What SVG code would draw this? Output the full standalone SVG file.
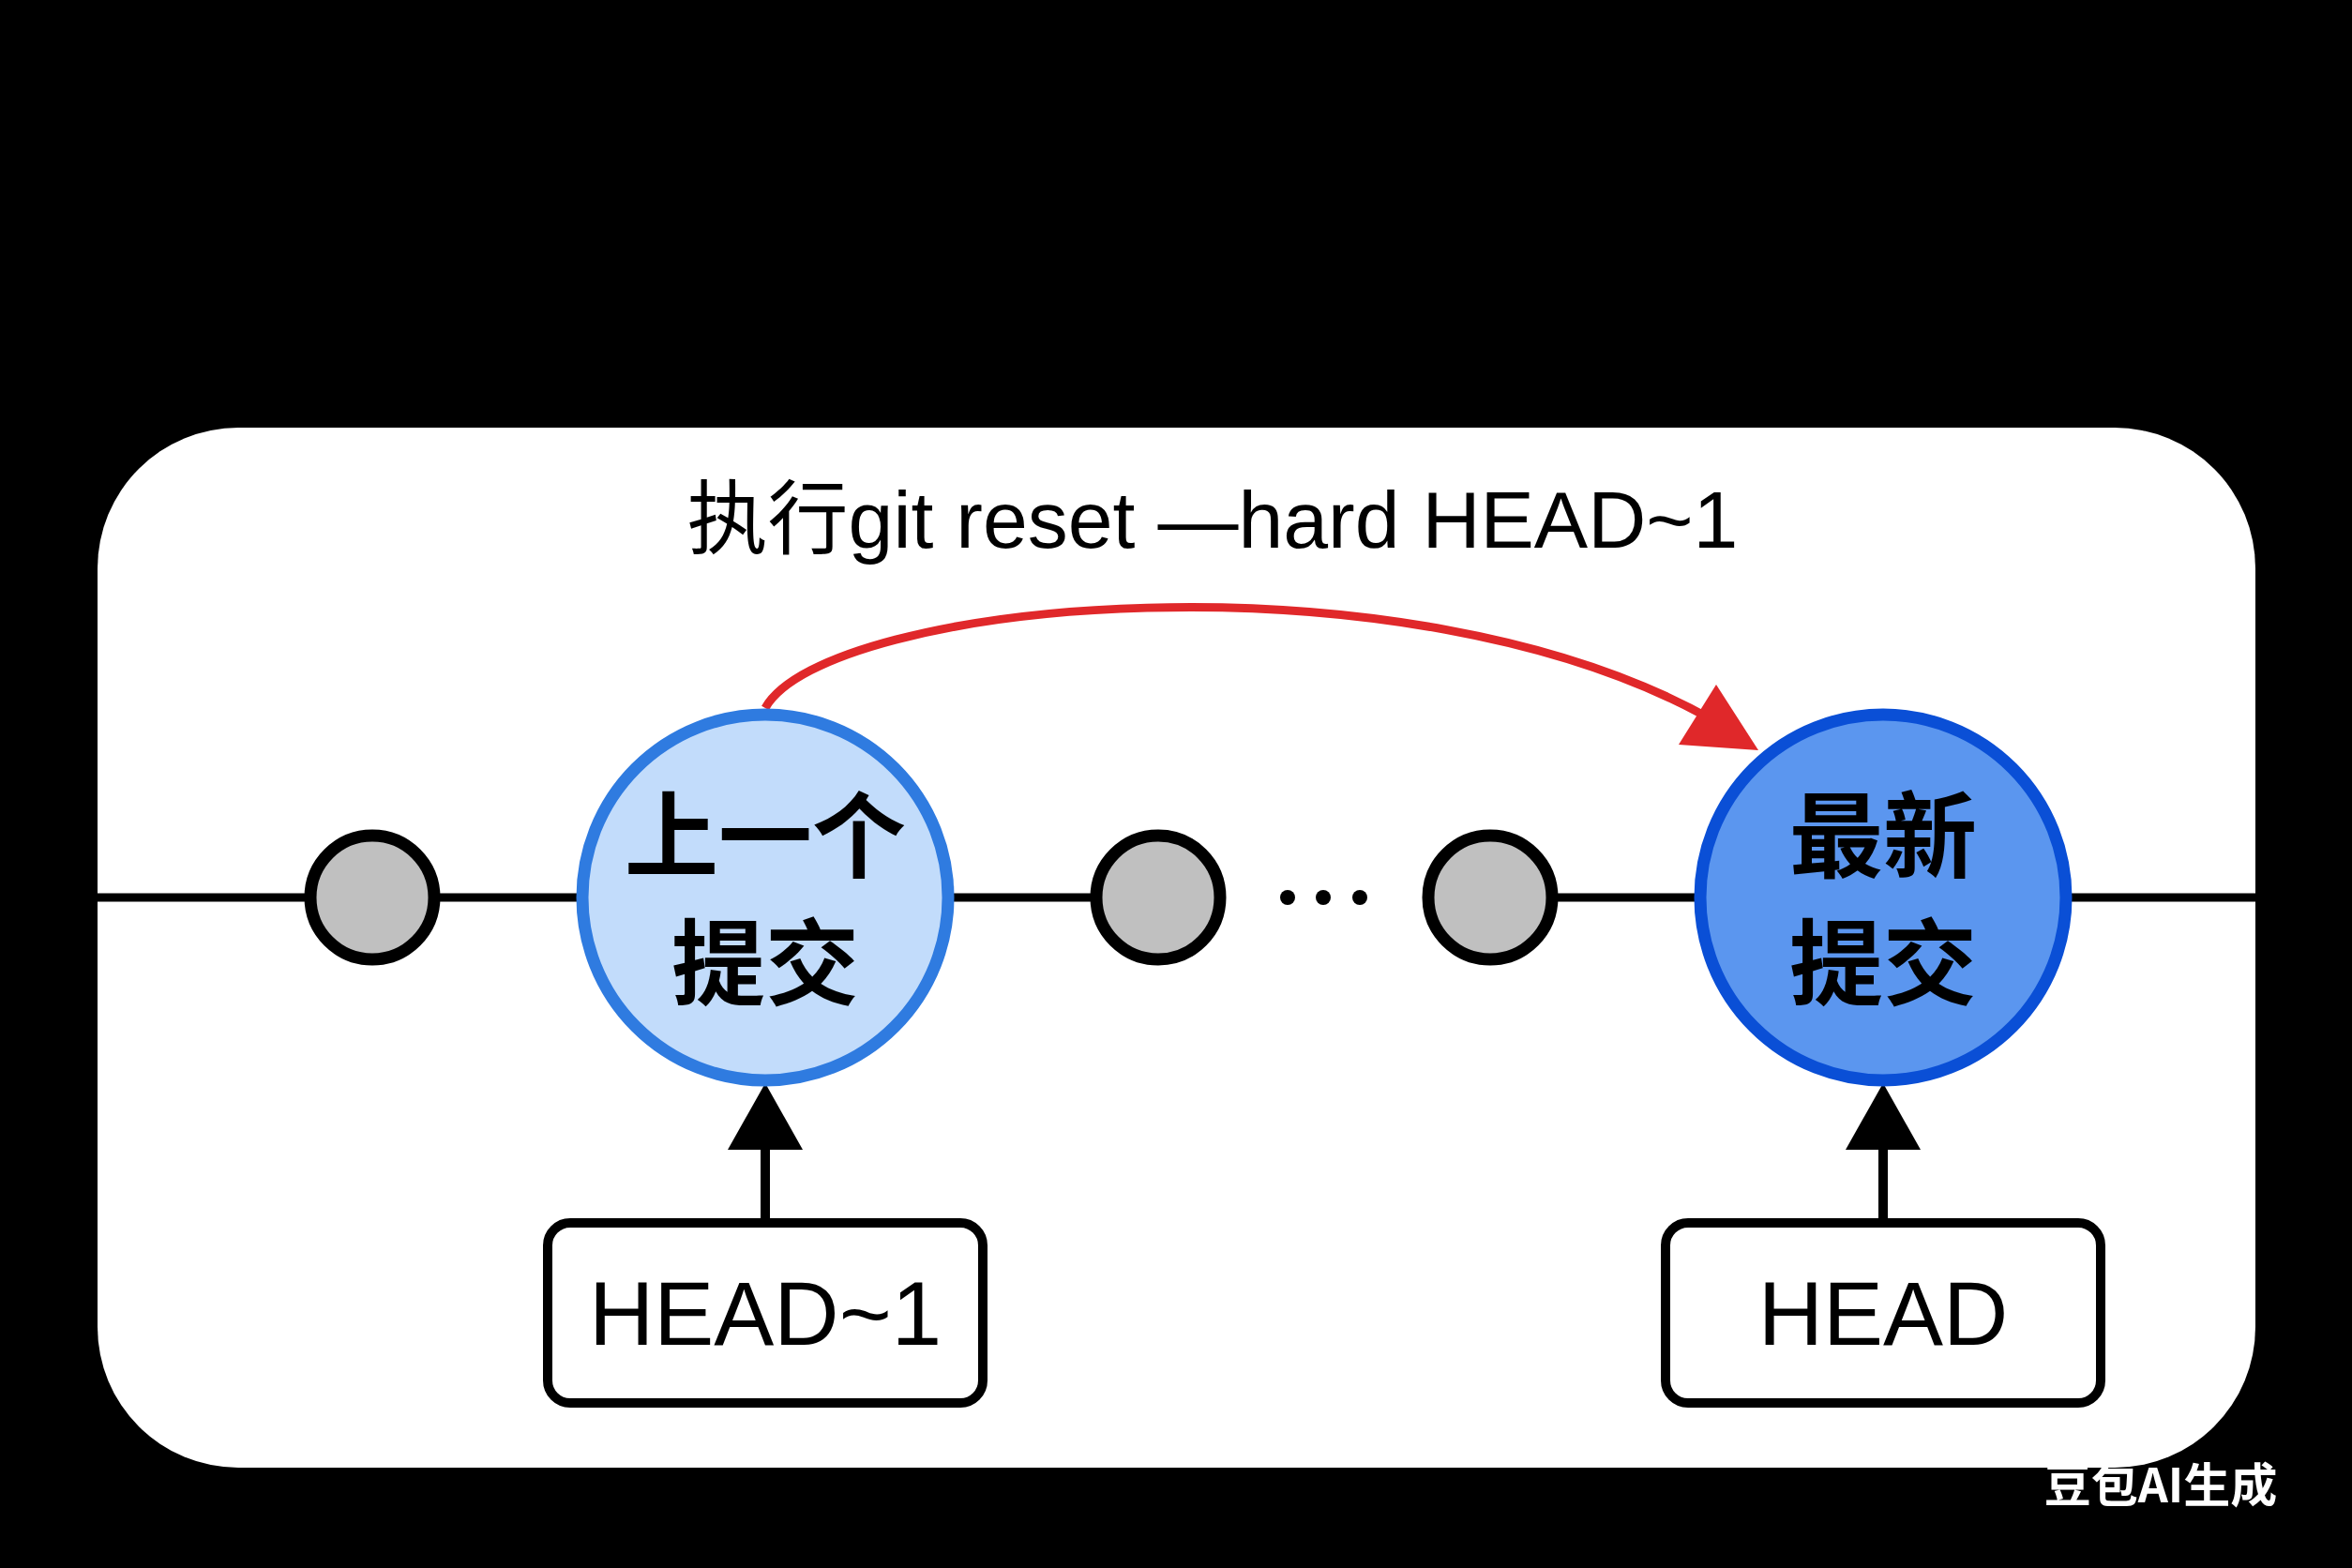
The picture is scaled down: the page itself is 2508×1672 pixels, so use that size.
<svg xmlns="http://www.w3.org/2000/svg" width="2508" height="1672" viewBox="0 0 2508 1672">
<style>
.t{font-family:"Liberation Sans","Noto Sans CJK SC",sans-serif;fill:#000}
.cj{font-family:"Noto Sans CJK SC",sans-serif;font-weight:bold;font-size:100px;text-anchor:middle}
.sm{fill:#c0c0c0;stroke:#000;stroke-width:13}
.box{fill:#fff;stroke:#000;stroke-width:10}
.lbl{font-size:96px;text-anchor:middle}
</style>
<rect width="2508" height="1672" fill="#000"/>
<rect x="104" y="456" width="2301" height="1109" rx="150" fill="#fff"/>
<text class="t" x="1293" y="584" font-size="86" text-anchor="middle">执行git reset —hard HEAD~1</text>
<g id="connectors">
<line x1="104" y1="957" x2="1235" y2="957" stroke="#000" stroke-width="9"/>
<line x1="1589" y1="957" x2="2405" y2="957" stroke="#000" stroke-width="9"/>
<path d="M816,755 C880,640 1500,580 1830,770" fill="none" stroke="#e0282a" stroke-width="9"/>
<path d="M1875,800 L1790,794 L1830,730 Z" fill="#e0282a"/>
<line x1="816" y1="1304" x2="816" y2="1200" stroke="#000" stroke-width="10"/>
<path d="M816,1155 L776,1226 L856,1226 Z" fill="#000"/>
<line x1="2008" y1="1304" x2="2008" y2="1200" stroke="#000" stroke-width="10"/>
<path d="M2008,1155 L1968,1226 L2048,1226 Z" fill="#000"/>
</g>
<g id="c1"><circle class="sm" cx="397" cy="957" r="66"/></g>
<g id="prev"><circle cx="816" cy="957" r="195" fill="#c2dcfb" stroke="#2f7be0" stroke-width="13"/>
<text class="t cj" x="816" y="928">上一个</text><text class="t cj" x="816" y="1064">提交</text></g>
<g id="c2"><rect x="1235" y="880" width="354" height="160" fill="#fff"/><circle class="sm" cx="1235" cy="957" r="66"/></g>
<g id="dots"><circle cx="1373" cy="957" r="8"/><circle cx="1411" cy="957" r="8"/><circle cx="1450" cy="957" r="8"/></g>
<g id="c3"><circle class="sm" cx="1589" cy="957" r="66"/></g>
<g id="latest"><circle cx="2008" cy="957" r="195" fill="#5b96ef" stroke="#0a4fd6" stroke-width="13"/>
<text class="t cj" x="2008" y="928">最新</text><text class="t cj" x="2008" y="1064">提交</text></g>
<g id="b1"><rect class="box" x="584" y="1304" width="464" height="192" rx="24"/><text class="t lbl" x="816" y="1434">HEAD~1</text></g>
<g id="b2"><rect class="box" x="1776" y="1304" width="464" height="192" rx="24"/><text class="t lbl" x="2008" y="1434">HEAD</text></g>
<text x="2304" y="1602" font-family="Noto Sans CJK SC,sans-serif" font-weight="bold" font-size="50" fill="#fff" text-anchor="middle">豆包AI生成</text>
</svg>
